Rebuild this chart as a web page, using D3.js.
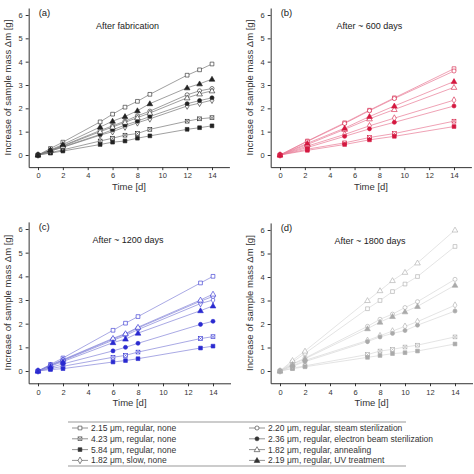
<!DOCTYPE html>
<html><head><meta charset="utf-8">
<script src="https://cdn.jsdelivr.net/npm/d3@7"></script>
<style>body{margin:0;background:#fff}text{font-family:Arial,"Liberation Sans",sans-serif}</style>
</head><body>
<svg id="chart" width="474" height="474"></svg>
<script>
'use strict';

// series: 0 2.15 open sq, 1 4.23 crossed sq, 2 5.84 filled sq, 3 1.82 slow diamond,
// 4 steam open circle, 5 e-beam filled circle, 6 annealing open tri, 7 UV filled tri
var legendLabels = [
	'2.15 μm, regular, none', '4.23 μm, regular, none', '5.84 μm, regular, none', '1.82 μm, slow, none',
	'2.20 μm, regular, steam sterilization', '2.36 μm, regular, electron beam sterilization',
	'1.82 μm, regular, annealing', '2.19 μm, regular, UV treatment'
];
var markers = ['square', 'xsquare', 'fsquare', 'diamond', 'circle', 'fcircle', 'triangle', 'ftriangle'];

var timesA = [0, 1, 2, 5, 6, 7, 8, 9, 12, 13, 14];
var valuesA = [
	[0, 0.28, 0.55, 1.42, 1.75, 2.05, 2.3, 2.6, 3.42, 3.65, 3.9],
	[0, 0.1, 0.22, 0.6, 0.72, 0.85, 0.92, 1.1, 1.45, 1.55, 1.6],
	[0, 0.08, 0.17, 0.45, 0.55, 0.6, 0.72, 0.82, 1.1, 1.17, 1.25],
	[0, 0.17, 0.33, 0.85, 1.0, 1.2, 1.38, 1.55, 2.1, 2.22, 2.35],
	[0, 0.2, 0.4, 1.05, 1.25, 1.45, 1.68, 1.88, 2.58, 2.75, 2.85],
	[0, 0.17, 0.35, 0.88, 1.08, 1.28, 1.45, 1.65, 2.2, 2.33, 2.45],
	[0, 0.2, 0.38, 1.0, 1.2, 1.4, 1.6, 1.8, 2.45, 2.62, 2.75],
	[0, 0.22, 0.45, 1.2, 1.45, 1.65, 1.9, 2.2, 2.88, 3.05, 3.25]
];
var timesB = [0, 2.2, 5.2, 7.2, 9.2, 14];
var valuesB = [
	[0, 0.6, 1.38, 1.92, 2.45, 3.7],
	[0, 0.25, 0.52, 0.75, 0.92, 1.45],
	[0, 0.2, 0.45, 0.65, 0.8, 1.22],
	[0, 0.38, 0.88, 1.25, 1.58, 2.35],
	[0, 0.58, 1.35, 1.9, 2.42, 3.6],
	[0, 0.32, 0.8, 1.12, 1.4, 2.1],
	[0, 0.45, 1.1, 1.55, 1.95, 2.9],
	[0, 0.5, 1.15, 1.65, 2.1, 3.15]
];
var timesC = [0, 1, 2, 6, 7, 8, 13, 14];
var valuesC = [
	[0, 0.28, 0.55, 1.72, 2.02, 2.3, 3.72, 4.0],
	[0, 0.1, 0.2, 0.58, 0.66, 0.8, 1.37, 1.45],
	[0, 0.06, 0.1, 0.38, 0.44, 0.52, 0.97, 1.05],
	[0, 0.22, 0.44, 1.3, 1.5, 1.75, 2.85, 3.0],
	[0, 0.24, 0.46, 1.35, 1.55, 1.82, 2.95, 3.15],
	[0, 0.15, 0.3, 0.85, 1.0, 1.17, 1.97, 2.1],
	[0, 0.25, 0.48, 1.38, 1.58, 1.85, 3.0, 3.25],
	[0, 0.2, 0.4, 1.2, 1.35, 1.6, 2.55, 2.75]
];
var timesD = [0, 1, 2, 7, 8, 9, 10, 11, 14];
var valuesD = [
	[0, 0.38, 0.75, 2.65, 3.0, 3.38, 3.7, 4.02, 5.3],
	[0, 0.12, 0.22, 0.7, 0.85, 0.92, 1.02, 1.1, 1.45],
	[0, 0.1, 0.18, 0.58, 0.66, 0.74, 0.78, 0.85, 1.15],
	[0, 0.22, 0.45, 1.3, 1.5, 1.7, 1.9, 2.1, 2.8],
	[0, 0.3, 0.55, 1.9, 2.2, 2.42, 2.7, 2.95, 3.9],
	[0, 0.2, 0.4, 1.25, 1.45, 1.6, 1.72, 1.95, 2.55],
	[0, 0.45, 0.85, 3.0, 3.42, 3.85, 4.2, 4.6, 6.0],
	[0, 0.28, 0.52, 1.8, 2.08, 2.32, 2.52, 2.75, 3.65]
];
var xTicks = [0, 2, 4, 6, 8, 10, 12, 14];
var yTicks = [0, 1, 2, 3, 4, 5, 6];

var panels = [
	{letter: '(a)', title: 'After fabrication', times: timesA, values: valuesA, x0: 38, x1: 212, y0: 155, y6: 15, mark: '#222', line: '#777'},
	{letter: '(b)', title: 'After ~ 600 days', times: timesB, values: valuesB, x0: 280, x1: 454, y0: 155, y6: 15, mark: '#d4183f', line: '#e87a95'},
	{letter: '(c)', title: 'After ~ 1200 days', times: timesC, values: valuesC, x0: 38, x1: 213, y0: 371, y6: 229, mark: '#2a2ad0', line: '#8484d8'},
	{letter: '(d)', title: 'After ~ 1800 days', times: timesD, values: valuesD, x0: 280, x1: 455, y0: 371, y6: 230, mark: '#aaa', line: '#d8d8d8'}
];

var svg = d3.select('#chart');

function drawMarker(g, type, x, y, col) {
	var open = type.charAt(0) !== 'f' && type !== 'xsquare';
	var fill = open ? '#fff' : col;
	var base = type.replace(/^[fx]/, '');
	var r = 1.9;
	if (type === 'xsquare') {
		g.append('rect').attr('x', x - r).attr('y', y - r).attr('width', 2 * r).attr('height', 2 * r)
			.attr('fill', '#fff').attr('stroke', col).attr('stroke-width', 0.6);
		g.append('path').attr('d', 'M' + (x - r) + ',' + (y - r) + 'L' + (x + r) + ',' + (y + r) + 'M' + (x + r) + ',' + (y - r) + 'L' + (x - r) + ',' + (y + r))
			.attr('stroke', col).attr('stroke-width', 0.5);
		return;
	}
	var sym = {square: d3.symbolSquare, circle: d3.symbolCircle, triangle: d3.symbolTriangle, diamond: d3.symbolDiamond}[base];
	var size = {square: 14, circle: 13, triangle: 14, diamond: 13}[base];
	g.append('path').attr('d', d3.symbol().type(sym).size(size)())
		.attr('transform', 'translate(' + x + ',' + (base === 'triangle' ? y + 0.4 : y) + ')')
		.attr('fill', fill).attr('stroke', col).attr('stroke-width', 0.6);
}

panels.forEach(function (p) {
	var xs = d3.scaleLinear().domain([0, 14]).range([p.x0, p.x1]);
	var ys = d3.scaleLinear().domain([0, 6]).range([p.y0, p.y6]);
	var g = svg.append('g');

	var left = xs(-0.75), bottom = ys(-0.52);
	g.append('g').attr('transform', 'translate(0,' + bottom + ')')
		.call(d3.axisBottom(xs.copy().domain([-0.75, 15.4]).range([left, xs(15.4)])).tickValues(xTicks).tickFormat(d3.format('d')).tickSize(3).tickSizeOuter(0))
		.call(function (a) { a.selectAll('text').attr('font-size', 7.5).attr('fill', '#333'); a.selectAll('line,path').attr('stroke', '#333'); });
	g.append('g').attr('transform', 'translate(' + left + ',0)')
		.call(d3.axisLeft(ys.copy().domain([-0.52, 6.3]).range([bottom, ys(6.3)])).tickValues(yTicks).tickFormat(d3.format('d')).tickSize(3).tickSizeOuter(0))
		.call(function (a) { a.selectAll('text').attr('font-size', 7.5).attr('fill', '#333'); a.selectAll('line,path').attr('stroke', '#333'); });

	g.append('text').attr('x', (left + xs(15.4)) / 2).attr('y', bottom + 23).attr('text-anchor', 'middle')
		.attr('font-size', 9.5).attr('fill', '#333').text('Time [d]');
	g.append('text').attr('transform', 'translate(' + (left - 18) + ',' + ((bottom + ys(6.3)) / 2) + ') rotate(-90)')
		.attr('text-anchor', 'middle').attr('font-size', 9.5).attr('fill', '#333').text('Increase of sample mass Δm [g]');
	g.append('text').attr('x', left + 10).attr('y', ys(6.1) + 3).attr('font-family', '"Liberation Serif",serif')
		.attr('font-size', 9.5).attr('fill', '#222').text(p.letter);
	g.append('text').attr('x', xs(7.2)).attr('y', ys(5.4)).attr('text-anchor', 'middle')
		.attr('font-size', 9).attr('fill', '#222').text(p.title);

	var line = d3.line().x(function (d) { return xs(d[0]); }).y(function (d) { return ys(d[1]); });
	p.values.forEach(function (vals) {
		g.append('path').datum(p.times.map(function (t, i) { return [t, vals[i]]; }))
			.attr('d', line).attr('fill', 'none').attr('stroke', p.line).attr('stroke-width', 0.7);
	});
	p.values.forEach(function (vals, s) {
		p.times.forEach(function (t, i) { drawMarker(g, markers[s], xs(t), ys(vals[i]), p.mark); });
	});
});

// legend
var lg = svg.append('g');
lg.append('line').attr('x1', 68).attr('x2', 406).attr('y1', 422).attr('y2', 422).attr('stroke', '#999');
lg.append('line').attr('x1', 68).attr('x2', 406).attr('y1', 466).attr('y2', 466).attr('stroke', '#999');
legendLabels.forEach(function (lab, i) {
	var col = Math.floor(i / 4), row = i % 4;
	var mx = col ? 257 : 80, ty = 428 + row * 10.8;
	lg.append('line').attr('x1', mx - 8).attr('x2', mx + 8).attr('y1', ty).attr('y2', ty).attr('stroke', '#666').attr('stroke-width', 0.7);
	drawMarker(lg, markers[i], mx, ty, '#333');
	lg.append('text').attr('x', mx + 11).attr('y', ty + 3).attr('font-size', 8.5).attr('fill', '#333').text(lab);
});
</script>
</body></html>
